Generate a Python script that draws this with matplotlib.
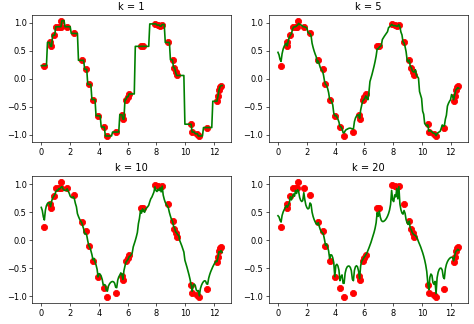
import numpy as np
import matplotlib
matplotlib.use("Agg")
import matplotlib.pyplot as plt

# noisy samples of sin(x) on [0, 4*pi]
x_pts = [0.19, 0.60, 0.65, 0.86, 1.05, 1.23, 1.35, 1.40, 1.81, 2.26,
         2.81, 3.12, 3.30, 3.60, 3.95, 4.33, 4.56, 5.21, 5.63, 5.67,
         5.91, 6.00, 6.12, 6.91, 7.05, 7.91, 8.14, 8.26, 8.40, 8.79,
         9.12, 9.21, 9.35, 9.44, 10.42, 10.49, 10.81, 10.98, 11.53, 12.20,
         12.30, 12.35, 12.45, 12.52]
y_pts = [0.235, 0.65, 0.58, 0.78, 0.93, 0.93, 0.93, 1.04, 0.93, 0.81,
         0.33, 0.17, -0.10, -0.37, -0.66, -0.86, -1.02, -0.95, -0.64, -0.72,
         -0.37, -0.32, -0.27, 0.58, 0.58, 0.98, 0.96, 0.94, 0.97, 0.65,
         0.34, 0.20, 0.12, 0.06, -0.81, -0.95, -0.98, -1.02, -0.87, -0.40,
         -0.31, -0.20, -0.14, -0.12]
k_values = [1, 5, 10, 20]

X = np.array(x_pts)
Y = np.array(y_pts)
grid = np.linspace(0, 4 * np.pi, 176)


def knn_predict(xq, k):
    # distance weighted k nearest neighbours
    out = []
    for q in xq:
        d = np.abs(X - q)
        idx = np.argsort(d)[:k]
        dd = d[idx]
        if np.any(dd == 0):
            out.append(Y[idx][dd == 0].mean())
            continue
        w = 1.0 / dd
        out.append(np.sum(w * Y[idx]) / np.sum(w))
    return np.array(out)


fig, axes = plt.subplots(2, 2, figsize=(8, 5.47), dpi=59.25)
for ax, k in zip(axes.flat, k_values):
    ax.plot(X, Y, "o", color="red", markersize=7.5)
    ax.plot(grid, knn_predict(grid, k), color="g", linewidth=2)
    ax.set_title(f"k = {k}")
    ax.set_xticks([0, 2, 4, 6, 8, 10, 12])
    ax.set_yticks([-1.0, -0.5, 0.0, 0.5, 1.0])

plt.subplots_adjust(left=0.068, right=0.987, top=0.954, bottom=0.065,
                    wspace=0.19, hspace=0.27)
plt.savefig("out.png", dpi=59.25)
